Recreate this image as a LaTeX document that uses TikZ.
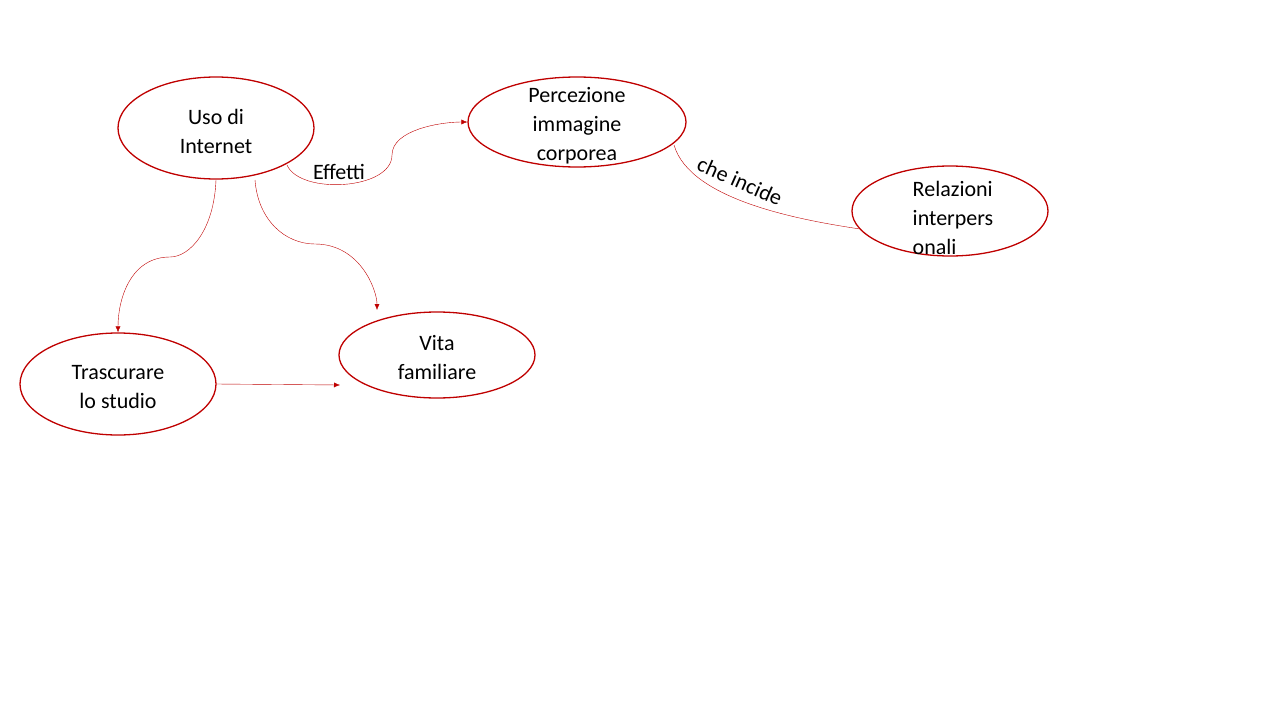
\documentclass[tikz,border=0pt]{standalone}
\usepackage{fontspec}
\setmainfont{Carlito}
\usetikzlibrary{shapes.geometric,arrows.meta}

\begin{document}
\begin{tikzpicture}[x=1pt,y=-1pt,
    concept/.style={draw=red!75!black, line width=1.3pt, ellipse, inner sep=0pt, minimum width=196pt},
    word/.style={align=center, font=\fontsize{22}{29}\selectfont},
    link/.style={draw=red!75!black, -{Latex[length=6pt,width=5pt]}},
    plain/.style={draw=red!75!black}]
    \useasboundingbox (0,0) rectangle (1280,720);

    \node[concept, minimum height=102pt] (uso) at (216,128) {};
    \node[word] (uso-t) at (216,131) {Uso di\\Internet};
    \node[concept, minimum width=218pt, minimum height=90pt] (perc) at (577,122) {};
    \node[word] (perc-t) at (577,126) {Percezione\\immagine\\corporea};
    \node[concept, minimum height=90pt] (rel) at (950,211) {};
    \node[word, align=left] (rel-t) at (953,218) {Relazioni\\interpers\\onali};
    \node[concept, minimum height=102pt] (tra) at (118,384) {};
    \node[word] (tra-t) at (118,387) {Trascurare\\lo studio};
    \node[concept, minimum height=86pt] (vita) at (437,355) {};
    \node[word] (vita-t) at (437,358) {Vita\\familiare};

    \coordinate (u1) at (287,165);
    \coordinate (u2) at (216,180);
    \coordinate (u3) at (255,180);
    \coordinate (p1) at (674,145);
    \coordinate (r1) at (860,229);
    \coordinate (t1) at (216,384);
    \coordinate (v1) at (340,385);

    \draw[link] (u1) .. controls (300,195) and (392,190) .. (392,155)
        .. controls (392,130) and (440,122) .. (perc.west);
    \node[word] (eff) at (339,172) {Effetti};

    \draw[plain] (p1) .. controls (690,200) and (800,220) .. (r1);
    \node[word, rotate=-24] (inc) at (740,181) {che incide};

    \draw[link] (u2) .. controls (214,230) and (190,257) .. (170,257)
        .. controls (130,257) and (118,300) .. (tra.north);
    \draw[link] (u3) .. controls (258,220) and (285,244) .. (315,244)
        .. controls (360,244) and (377,290) .. (377,310);
    \draw[link] (t1) -- (v1);
\end{tikzpicture}
\end{document}
